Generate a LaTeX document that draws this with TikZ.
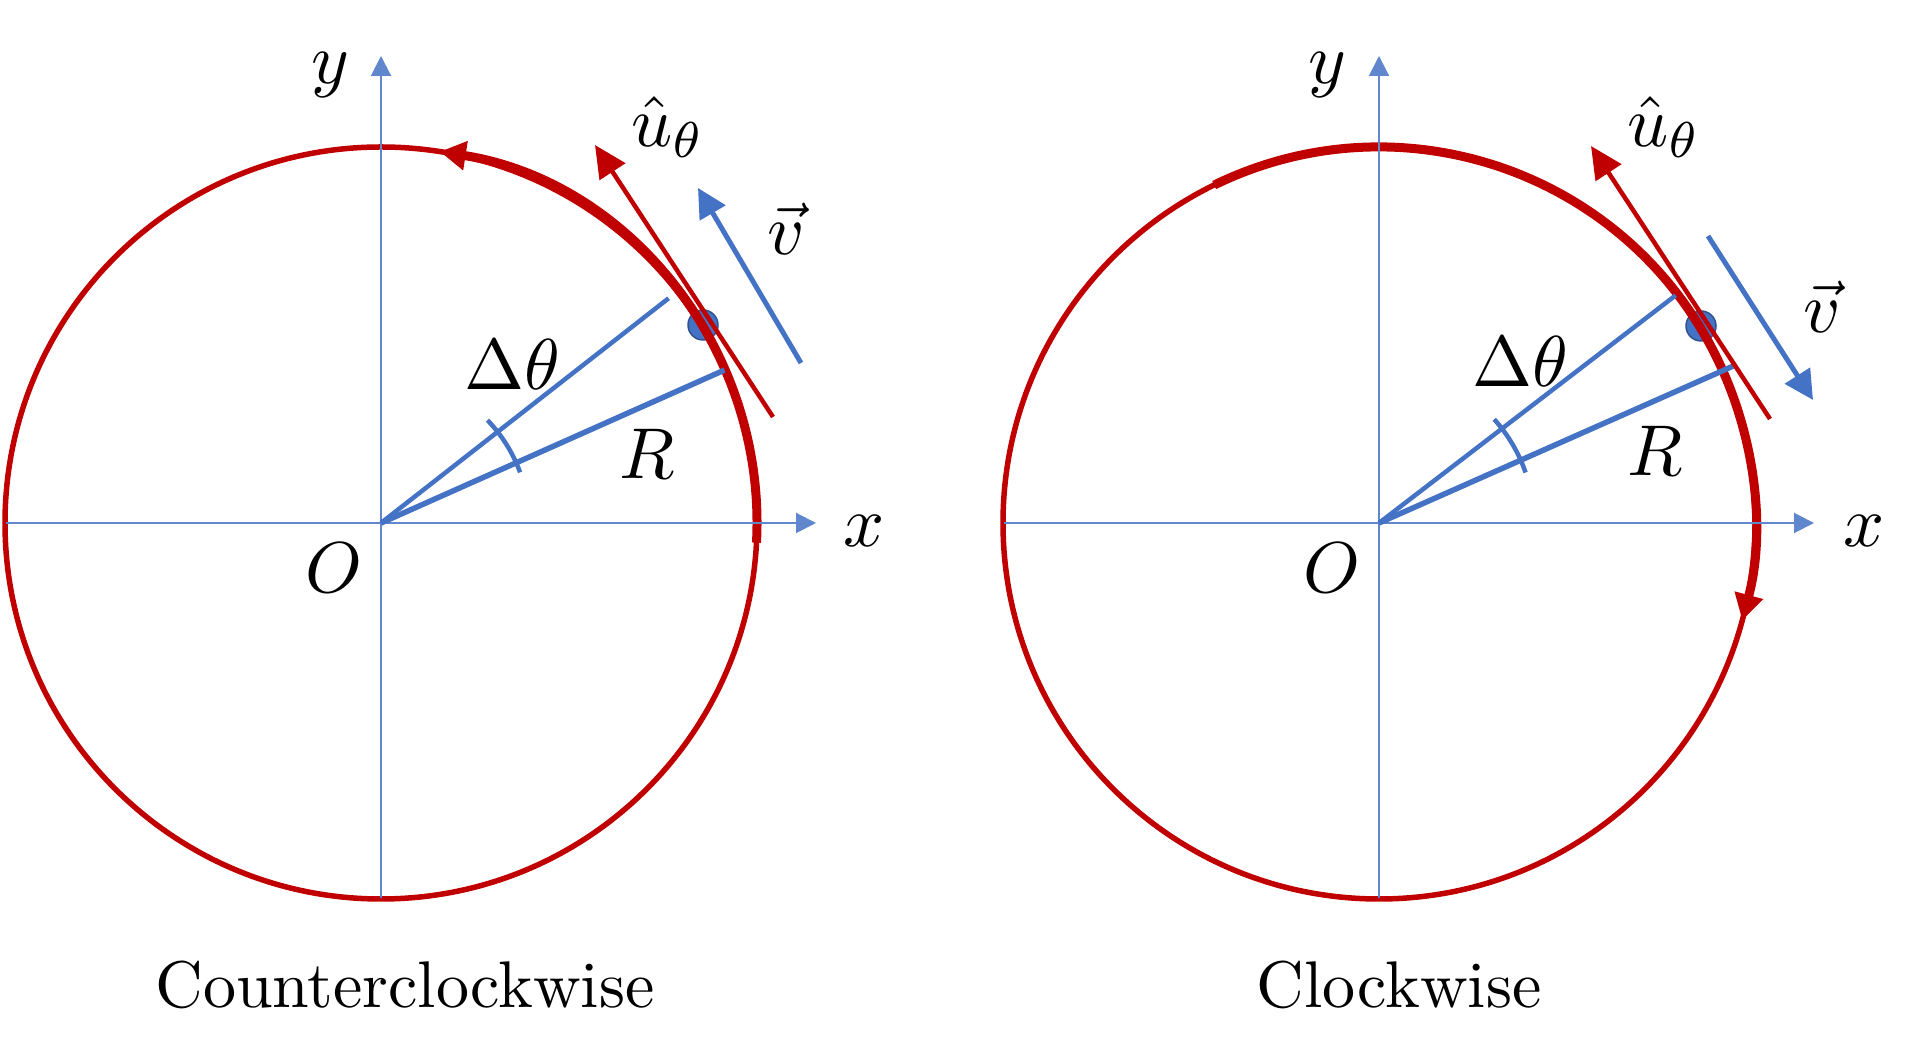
\documentclass[tikz,border=0pt]{standalone}
\usetikzlibrary{arrows.meta,calc}
\definecolor{cred}{HTML}{C00000}
\definecolor{cblue}{HTML}{4472C4}
\definecolor{cdot}{HTML}{2F528F}
\begin{document}
\begin{tikzpicture}[x=1pt,y=1pt,
  circ/.style={draw=cred,line width=5.5pt},
  thickarc/.style={draw=cred,line width=9pt,-{Triangle[length=26pt,width=28pt]}},
  axisline/.style={draw=cblue!85,line width=2pt,-{Triangle[length=20pt,width=20pt]}},
  rad/.style={draw=cblue,line width=4.5pt},
  radb/.style={draw=cblue,line width=5.5pt},
  tang/.style={draw=cred,line width=4.5pt,-{Triangle[length=32pt,width=30pt]}},
  vel/.style={draw=cblue,line width=5pt,-{Triangle[length=29pt,width=29pt]}},
  dotnode/.style={circle,fill=cblue,draw=cdot,line width=1.5pt,minimum size=30pt,inner sep=0pt},
  lbl/.style={inner sep=0pt,scale=7.2},
  captext/.style={inner sep=0pt,scale=6.6}]
\useasboundingbox (0,0) rectangle (1906,1054);

% ---------------- Left: counterclockwise ----------------
\coordinate (O1) at (381,531);
\node[dotnode] (P1) at (703,729) {};
\draw[circ] (O1) circle[radius=376];
\draw[thickarc] ($(O1)+(-3:376)$) arc[start angle=-3,end angle=81,radius=376];
\coordinate (X1a) at (6,531);   \coordinate (X1b) at (816,531);
\coordinate (Y1a) at (381,156); \coordinate (Y1b) at (381,998);
\draw[axisline] (X1a) -- (X1b);
\draw[axisline] (Y1a) -- (Y1b);
\coordinate (A1) at ($(O1)+(38:365)$);
\coordinate (B1) at ($(O1)+(24:376)$);
\draw[rad] (O1) -- (A1);
\draw[radb] (O1) -- (B1);
\coordinate (M1) at ($(O1)+(44:148)$);
\draw[rad] (M1) arc[start angle=44,end angle=20,radius=148];
\coordinate (T1a) at (773,637); \coordinate (T1b) at (595,909);
\draw[tang] (T1a) -- (T1b);
\coordinate (V1a) at (801,691); \coordinate (V1b) at (698,866);
\draw[vel] (V1a) -- (V1b);

\node[lbl,anchor=base] (ly1) at (330,970) {$y$};
\node[lbl,anchor=base] (lx1) at (864,507) {$x$};
\node[lbl,anchor=base] (lo1) at (334,461) {$O$};
\node[lbl,anchor=base] (ld1) at (512,664) {$\Delta\theta$};
\node[lbl,anchor=base] (lr1) at (647,575) {$R$};
\node[lbl,anchor=base west] (lu1) at (630,907) {$\hat{u}_{\theta}$};
\node[lbl,anchor=base] (lv1) at (786,799) {$\vec{v}$};
\node[captext,anchor=base] (c1) at (405,46) {Counterclockwise};

% ---------------- Right: clockwise ----------------
\coordinate (O2) at (1379,531);
\node[dotnode] (P2) at (1701,728) {};
\draw[circ] (O2) circle[radius=376];
\draw[thickarc] ($(O2)+(116:376)$) arc[start angle=116,end angle=-15,radius=376];
\coordinate (X2a) at (1004,531); \coordinate (X2b) at (1814,531);
\coordinate (Y2a) at (1379,156); \coordinate (Y2b) at (1379,998);
\draw[axisline] (X2a) -- (X2b);
\draw[axisline] (Y2a) -- (Y2b);
\coordinate (A2) at ($(O2)+(37.5:374)$);
\coordinate (B2) at ($(O2)+(23.9:387)$);
\draw[rad] (O2) -- (A2);
\draw[radb] (O2) -- (B2);
\coordinate (M2) at ($(O2)+(42:155)$);
\draw[rad] (M2) arc[start angle=42,end angle=19,radius=155];
\coordinate (T2a) at (1770,635); \coordinate (T2b) at (1591,908);
\draw[tang] (T2a) -- (T2b);
\coordinate (V2a) at (1708,818); \coordinate (V2b) at (1813,654);
\draw[vel] (V2a) -- (V2b);

\node[lbl,anchor=base] (ly2) at (1327,970) {$y$};
\node[lbl,anchor=base] (lx2) at (1864,507) {$x$};
\node[lbl,anchor=base] (lo2) at (1332,461) {$O$};
\node[lbl,anchor=base] (ld2) at (1520,667) {$\Delta\theta$};
\node[lbl,anchor=base] (lr2) at (1655,578) {$R$};
\node[lbl,anchor=base west] (lu2) at (1626,907) {$\hat{u}_{\theta}$};
\node[lbl,anchor=base] (lv2) at (1822,721) {$\vec{v}$};
\node[captext,anchor=base] (c2) at (1399,46) {Clockwise};
\end{tikzpicture}
\end{document}
